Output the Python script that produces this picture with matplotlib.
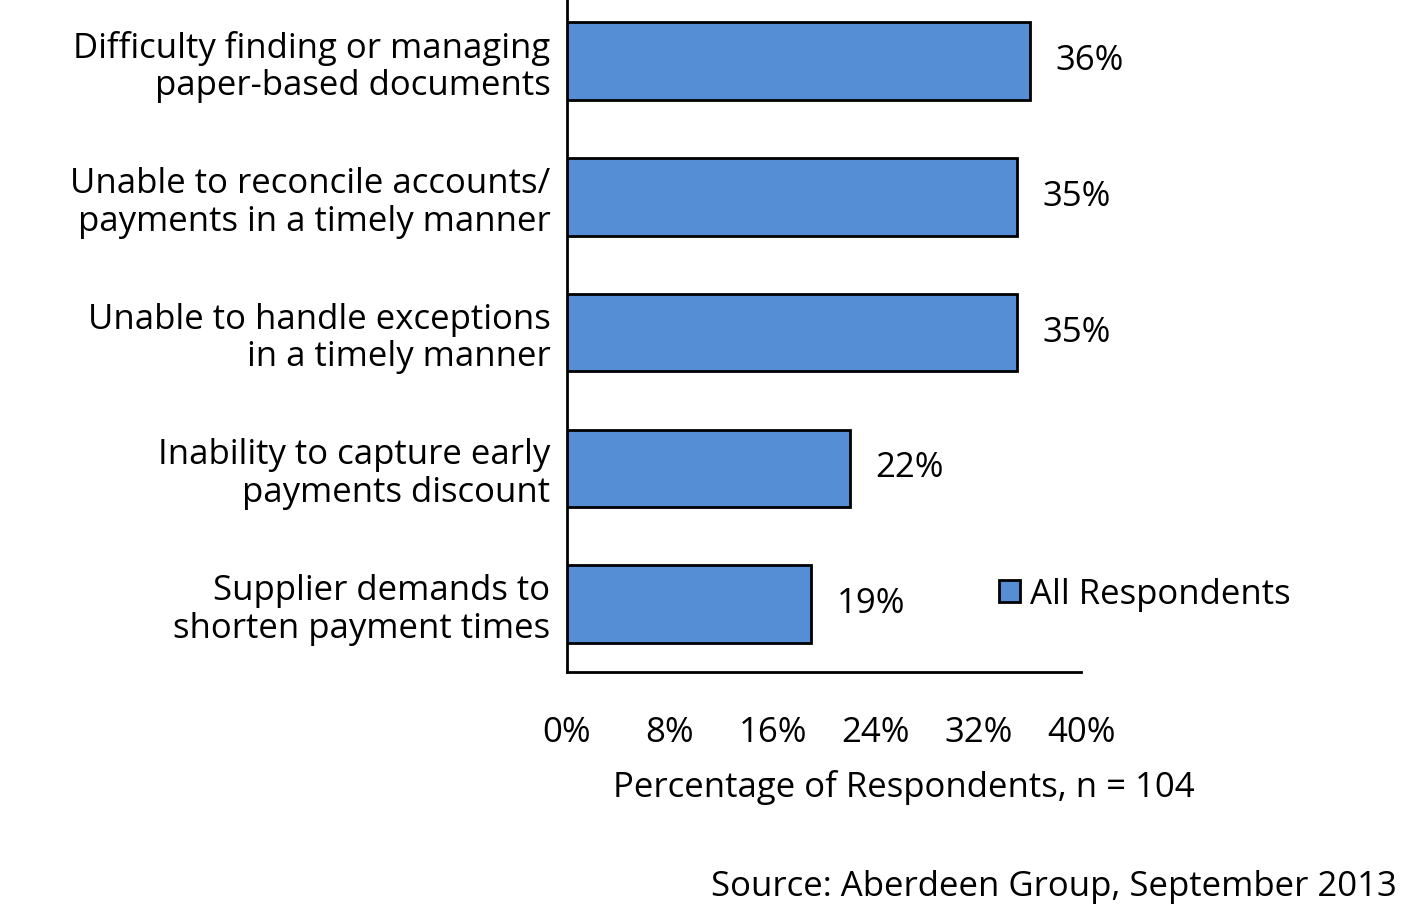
import matplotlib
matplotlib.use("Agg")
import matplotlib.pyplot as plt
from matplotlib.patches import Patch

categories = ["Difficulty finding or managing\npaper-based documents",
              "Unable to reconcile accounts/\npayments in a timely manner",
              "Unable to handle exceptions\nin a timely manner",
              "Inability to capture early\npayments discount",
              "Supplier demands to\nshorten payment times"]
values = [36, 35, 35, 22, 19]
ticks = [0, 8, 16, 24, 32, 40]

plt.rcParams["font.family"] = "Open Sans"
FS = 25
fig = plt.figure(figsize=(14.14, 9.13), dpi=100)
ax = fig.add_axes([0.401, 0.264, 0.3635, 0.736])
y = list(range(len(categories)))
ax.barh(y, values, height=0.57, color="#558ED5", edgecolor="black", linewidth=2, zorder=3)
for yi, v in zip(y, values):
    ax.text(v + 2, yi, f"{v}%", va="center", ha="left", fontsize=FS)
ax.set_xlim(0, 40)
ax.set_ylim(4.5, -0.45)
ax.set_yticks(y)
ax.set_yticklabels(categories, fontsize=FS, linespacing=1.15)
ax.set_xticks(ticks)
ax.set_xticklabels([f"{t}%" for t in ticks], fontsize=FS)
ax.tick_params(length=0, axis="x", pad=32)
ax.tick_params(length=0, axis="y", pad=12)
for s in ["top", "right"]:
    ax.spines[s].set_visible(False)
for s in ["left", "bottom"]:
    ax.spines[s].set_linewidth(2)
ax.set_xlabel("Percentage of Respondents, n = 104", fontsize=FS, labelpad=14, x=0.655)
ax.legend(handles=[Patch(facecolor="#558ED5", edgecolor="black", linewidth=2, label="All Respondents")],
          loc="center left", bbox_to_anchor=(0.78, 0.115), frameon=False, fontsize=FS,
          handlelength=0.6, handleheight=0.6, handletextpad=0.3)
fig.text(0.988, 0.028, "Source: Aberdeen Group, September 2013", ha="right", va="center", fontsize=FS)
fig.savefig("out.png", dpi=100)
